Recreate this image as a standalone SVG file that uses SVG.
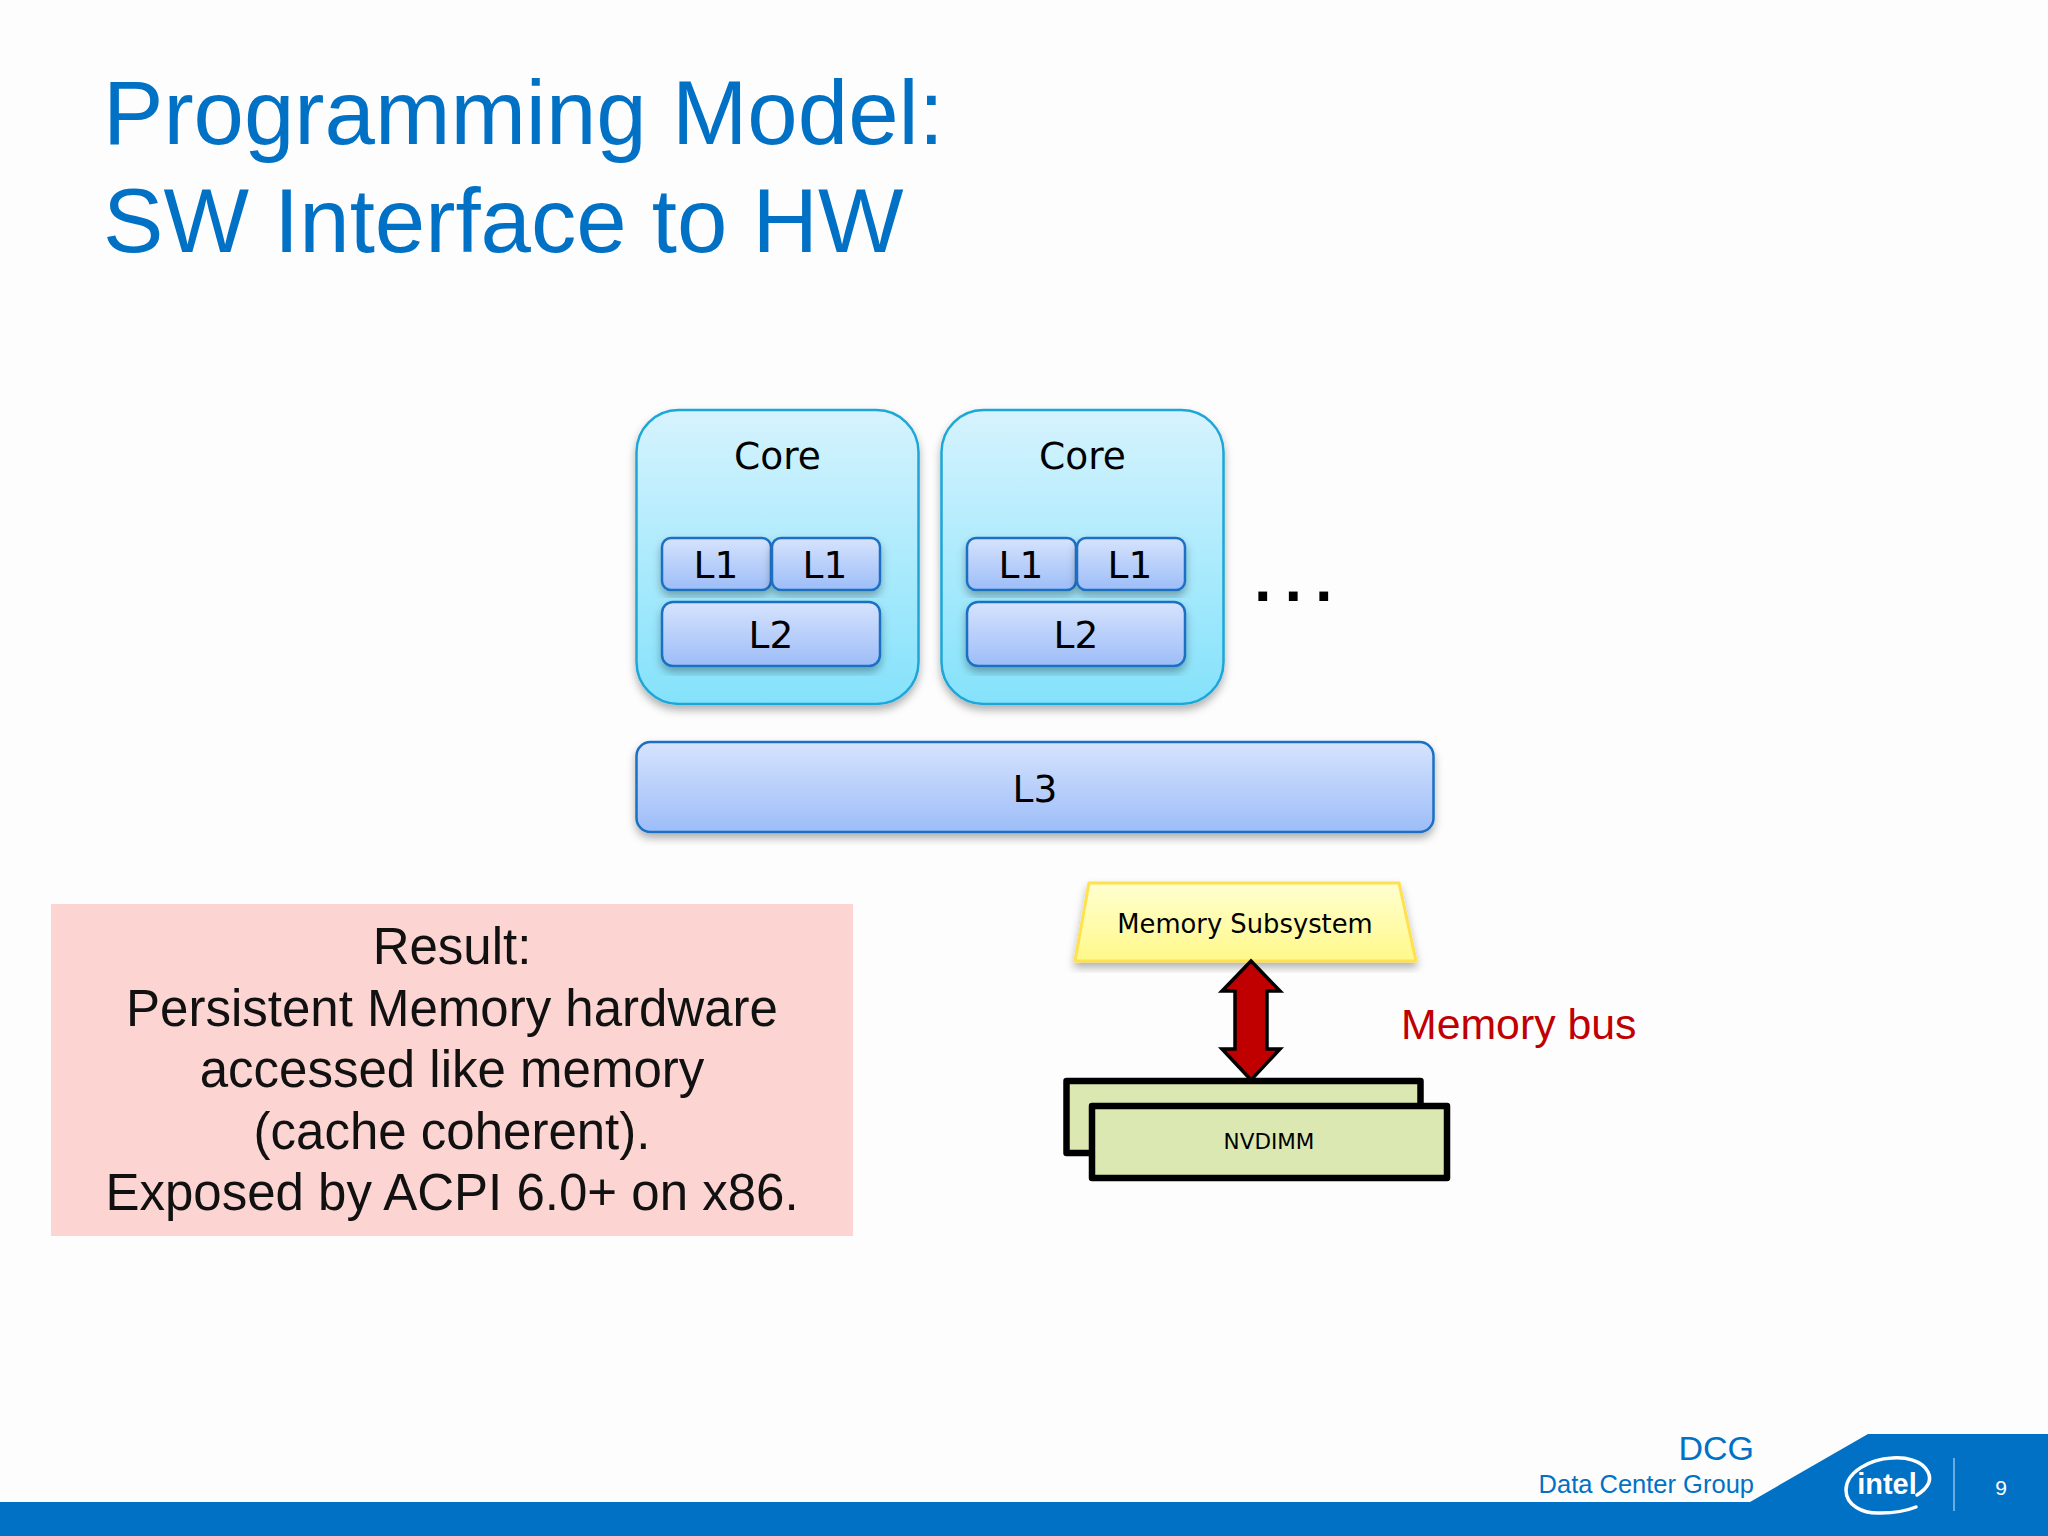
<svg xmlns="http://www.w3.org/2000/svg" width="2048" height="1536" viewBox="0 0 2048 1536">
<style>
.v{font-family:"DejaVu Sans",Verdana,sans-serif;fill:#000;text-anchor:middle}
.a{font-family:"Liberation Sans",Arial,sans-serif}
.core{fill:url(#gc);stroke:#1ea7d8;stroke-width:2.5;filter:url(#sh)}
.cache{fill:url(#gb);stroke:#1a70c4;stroke-width:2.5;filter:url(#sh)}
.dimm{fill:#dce8b2;stroke:#000;stroke-width:6.5;stroke-linejoin:round}
.big{font-size:37.5px}
.res{font-size:51px;fill:#111;text-anchor:middle}
</style>
<defs>
<linearGradient id="gc" x1="0" y1="0" x2="0" y2="1"><stop offset="0" stop-color="#d6f3fe"/><stop offset="1" stop-color="#84e2fb"/></linearGradient>
<linearGradient id="gb" x1="0" y1="0" x2="0" y2="1"><stop offset="0" stop-color="#d6e3fd"/><stop offset="1" stop-color="#9dbdf8"/></linearGradient>
<linearGradient id="gy" x1="0" y1="0" x2="0" y2="1"><stop offset="0" stop-color="#ffffd0"/><stop offset="1" stop-color="#fff88a"/></linearGradient>
<filter id="sh" x="-10%" y="-10%" width="120%" height="125%"><feDropShadow dx="0" dy="5" stdDeviation="4" flood-color="#000" flood-opacity="0.3"/></filter>
</defs>
<rect width="2048" height="1536" fill="#fdfdfd"/>
<g id="title" class="a" font-size="90.6" fill="#0071c5">
<text x="103" y="144">Programming Model:</text>
<text x="103" y="252">SW Interface to HW</text>
</g>
<g id="core1">
<rect class="core" x="636.5" y="410" width="282" height="294" rx="42"/>
<text class="v big" x="777.5" y="469">Core</text>
<rect class="cache" x="662" y="538" width="109" height="52" rx="9"/>
<text class="v big" x="716" y="578">L1</text>
<rect class="cache" x="772" y="538" width="108" height="52" rx="9"/>
<text class="v big" x="825" y="578">L1</text>
<rect class="cache" x="662" y="602" width="218" height="64" rx="11"/>
<text class="v big" x="771" y="648">L2</text>
</g>
<g id="core2">
<rect class="core" x="941.5" y="410" width="282" height="294" rx="42"/>
<text class="v big" x="1082.5" y="469">Core</text>
<rect class="cache" x="967" y="538" width="109" height="52" rx="9"/>
<text class="v big" x="1021" y="578">L1</text>
<rect class="cache" x="1077" y="538" width="108" height="52" rx="9"/>
<text class="v big" x="1130" y="578">L1</text>
<rect class="cache" x="967" y="602" width="218" height="64" rx="11"/>
<text class="v big" x="1076" y="648">L2</text>
</g>
<text id="ellipsis" class="v" font-size="50" font-weight="bold" x="1299" y="601" letter-spacing="11.5">...</text>
<g id="l3">
<rect class="cache" x="636.5" y="742" width="797" height="90" rx="14"/>
<text class="v big" x="1035" y="802">L3</text>
</g>
<g id="result">
<rect x="51" y="904" width="802" height="332" fill="#fcd5d2"/>
<g class="a res">
<text x="452" y="964">Result:</text>
<text x="452" y="1026">Persistent Memory hardware</text>
<text x="452" y="1087">accessed like memory</text>
<text x="452" y="1149">(cache coherent).</text>
<text x="452" y="1210">Exposed by ACPI 6.0+ on x86.</text>
</g>
</g>
<g id="memory-subsystem">
<polygon points="1089,883 1399,883 1416,961 1075,961" fill="url(#gy)" stroke="#ffe14d" stroke-width="3" filter="url(#sh)"/>
<text class="v" font-size="25.8" x="1245" y="933">Memory Subsystem</text>
</g>
<g id="nvdimm-back"><rect class="dimm" x="1066.5" y="1081" width="354" height="72"/></g>
<g id="nvdimm">
<rect class="dimm" x="1092" y="1106" width="355" height="72"/>
<text class="v" font-size="21.5" x="1269" y="1149">NVDIMM</text>
</g>
<g id="connectors">
<polygon points="1251,961 1280,991 1267,991 1267,1049 1280,1049 1251,1080 1222,1049 1235,1049 1235,991 1222,991" fill="#c00000" stroke="#000" stroke-width="3.5" stroke-linejoin="miter"/>
</g>
<text id="bus-label" class="a" font-size="42.8" fill="#c00000" x="1401" y="1039">Memory bus</text>
<g id="footer">
<polygon points="0,1502 1750,1502 1868,1434 2048,1434 2048,1536 0,1536" fill="#0071c5"/>
<g class="a" fill="#0071c5" text-anchor="end">
<text x="1754" y="1460" font-size="34">DCG</text>
<text x="1754" y="1493" font-size="25.5">Data Center Group</text>
</g>
<g id="intel-logo">
<path d="M1917,1495 C1928,1488 1932,1480 1928,1472 C1922,1460 1905,1457 1892,1458 C1870,1459 1846,1472 1846,1490 C1846,1505 1862,1514 1881,1513 C1895,1513 1906,1511 1916,1507" fill="none" stroke="#fff" stroke-width="3.5" stroke-linecap="round"/>
<text class="a" x="1887" y="1494" font-size="29" font-weight="bold" fill="#fff" text-anchor="middle">intel</text>
</g>
<line x1="1954" y1="1458" x2="1954" y2="1511" stroke="#8cc0e8" stroke-width="1.5"/>
<text class="a" x="2001" y="1495" font-size="21" fill="#fff" text-anchor="middle">9</text>
</g>
</svg>
